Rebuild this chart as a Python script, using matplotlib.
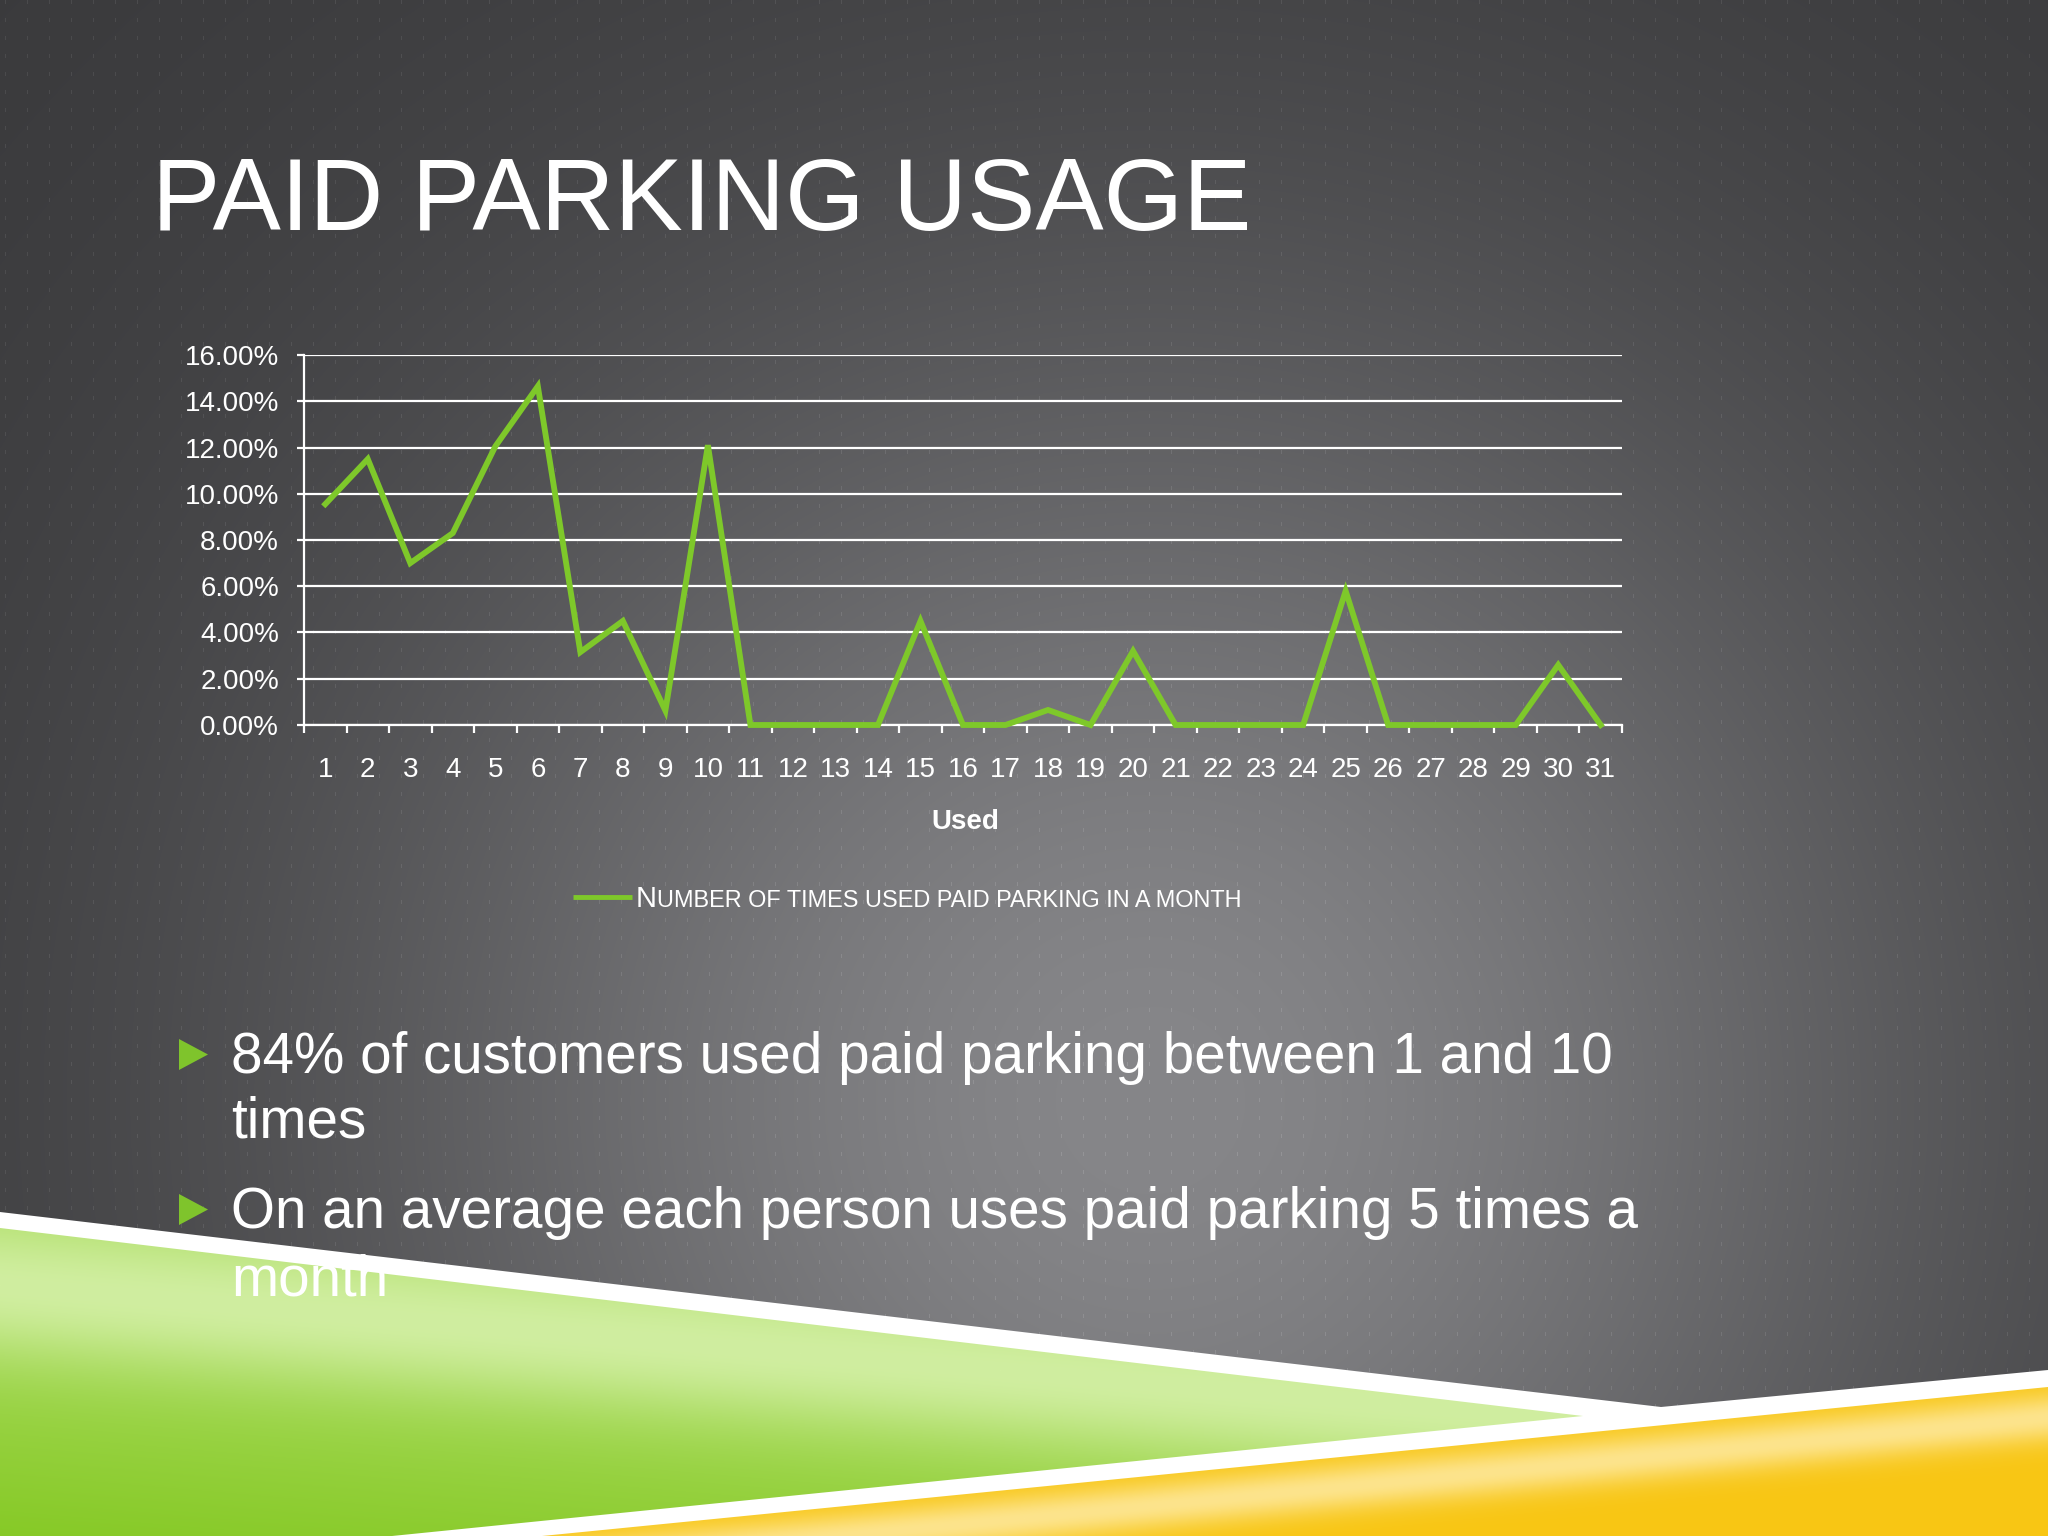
import numpy as np
import matplotlib
matplotlib.use("Agg")
import matplotlib.pyplot as plt
from matplotlib.patches import Polygon
from matplotlib.ticker import FuncFormatter, FixedLocator

# ---------------- data ----------------
categories = list(range(1, 32))
usage_share = [9.55, 11.5, 7.0, 8.3, 12.05, 14.65, 3.15, 4.5, 0.62, 12.1,
               0.0, 0.0, 0.0, 0.0, 4.5, 0.0, 0.0, 0.65, 0.0, 3.2,
               0.0, 0.0, 0.0, 0.0, 5.8, 0.0, 0.0, 0.0, 0.0, 2.6, 0.0]
y_ticks = [0, 2, 4, 6, 8, 10, 12, 14, 16]
series_name = "Number of times used paid parking in a month"
x_title = "Used"
title = "PAID PARKING USAGE"
bullets = [["84% of customers used paid parking between 1 and 10", "times"],
           ["On an average each person uses paid parking 5 times a", "month"]]

FONT = "Liberation Sans"
plt.rcParams["font.family"] = [FONT, "DejaVu Sans"]

W, H = 2048, 1536
fig = plt.figure(figsize=(W / 100, H / 100), dpi=100)

# ---------------- background ----------------
bg = fig.add_axes([0, 0, 1, 1])
bg.set_xlim(0, W)
bg.set_ylim(H, 0)
bg.axis("off")

yy, xx = np.mgrid[0:H, 0:W].astype(float)
f = np.exp(-(((xx - 1150) / 830) ** 2 + ((yy - 1100) / 820) ** 2))
dark = np.array([0x39, 0x39, 0x3b]) / 255
light = np.array([0x86, 0x86, 0x89]) / 255
img = dark[None, None, :] + (light - dark)[None, None, :] * f[..., None]
dots = ((xx.astype(int) % 22) == 5) & ((yy.astype(int) % 18) < 4)
img[dots] += 0.06
img = np.clip(img, 0, 1)
bg.imshow(img, extent=(0, W, H, 0), interpolation="nearest", zorder=0, aspect="auto")

white_poly = Polygon([(0, 1212), (1661, 1407), (2048, 1370), (2048, H), (0, H)],
                     closed=True, facecolor="white", edgecolor="none", zorder=1)
bg.add_patch(white_poly)

# green gradient
d = (yy - (1285 + 0.085 * xx))
hl_g = np.array([0xd0, 0xee, 0xa0]) / 255
top_g = np.array([0xa8, 0xdb, 0x5c]) / 255
bot_g = np.array([0x80, 0xc6, 0x1c]) / 255
mixb = np.clip(d / 300, 0, 1)[..., None]
base_g = top_g * (1 - mixb) + bot_g * mixb
wg = np.exp(-(d / 70) ** 2)[..., None]
gimg = base_g * (1 - wg) + hl_g * wg
green_poly = Polygon([(0, 1228), (1583, 1416), (392, H), (0, H)], closed=True,
                     facecolor="none", edgecolor="none")
bg.add_patch(green_poly)
gim = bg.imshow(np.clip(gimg, 0, 1), extent=(0, W, H, 0), interpolation="bilinear",
                zorder=2, aspect="auto")
gim.set_clip_path(green_poly)

# yellow gradient
dy_ = (yy - (1488 - 0.0986 * (xx - 1024) + 30))
hl_y = np.array([0xfd, 0xe4, 0x8c]) / 255
base_y = np.array([0xf8, 0xc6, 0x14]) / 255
wy = np.exp(-(dy_ / 24) ** 2)[..., None]
yimg = base_y * (1 - wy) + hl_y * wy
yellow_poly = Polygon([(542, H), (2048, 1387), (2048, H)], closed=True,
                      facecolor="none", edgecolor="none")
bg.add_patch(yellow_poly)
yim = bg.imshow(np.clip(yimg, 0, 1), extent=(0, W, H, 0), interpolation="bilinear",
                zorder=2, aspect="auto")
yim.set_clip_path(yellow_poly)

# ---------------- title ----------------
bg.text(152, 230, title, color="white", fontsize=73.7, fontfamily=FONT,
        va="baseline", ha="left", zorder=5)

# ---------------- chart ----------------
GREEN = "#7ec82a"
ax = fig.add_axes([304 / W, 1 - 725 / H, (1622 - 304) / W, (725 - 355) / H])
ax.patch.set_alpha(0)
ax.plot(categories, [v / 100 for v in usage_share], color=GREEN, lw=4.2,
        solid_joinstyle="miter", zorder=3, clip_on=False)
ax.set_xlim(0.5, len(categories) + 0.5)
ax.set_ylim(0, 0.16)
ax.yaxis.set_major_locator(FixedLocator([t / 100 for t in y_ticks]))
ax.yaxis.set_major_formatter(FuncFormatter(lambda v, p: f"{v * 100:.2f}%"))
ax.grid(axis="y", color="white", lw=1.6, zorder=1)
ax.set_axisbelow(True)
for s in ["top", "right"]:
    ax.spines[s].set_visible(False)
for s in ["left", "bottom"]:
    ax.spines[s].set_color("white")
    ax.spines[s].set_linewidth(1.6)
ax.set_xticks(categories)
ax.set_xticklabels([str(c) for c in categories])
ax.set_xticks([c - 0.5 for c in categories] + [len(categories) + 0.5], minor=True)
ax.tick_params(axis="x", which="major", length=0, pad=23, labelsize=20,
               labelcolor="white")
ax.tick_params(axis="x", which="minor", length=6, width=1.6, color="white",
               direction="out")
ax.tick_params(axis="y", which="major", length=5, width=1.6, color="white",
               pad=13, labelsize=20, labelcolor="white")

# axis title
bg.text(965, 822, x_title, color="white", fontsize=20, fontweight="bold",
        ha="center", va="center", zorder=5)

# legend (small caps)
bg.plot([573, 632], [897, 897], color=GREEN, lw=3.5, zorder=5,
        solid_capstyle="butt")
sc = series_name.upper()
tN = bg.text(636, 907, sc[0], color="white", fontsize=21, va="baseline",
             ha="left", zorder=5)
fig.canvas.draw()
bb = tN.get_window_extent()
x_next = bb.x1
bg.annotate(sc[1:], xy=(x_next, H - 907), xycoords="figure pixels", color="white",
            fontsize=16.9, va="baseline", ha="left", zorder=5)

# ---------------- bullets ----------------
TRI = "#7fc42c"
bullet_baselines = [(1073, 1138), (1228, 1295)]
for (b1, b2), lines in zip(bullet_baselines, bullets):
    bg.add_patch(Polygon([(179, b1 - 34), (179, b1 - 3), (208, b1 - 18.5)],
                         closed=True, facecolor=TRI, edgecolor="none", zorder=5))
    bg.text(231, b1, lines[0], color="white", fontsize=40.8, va="baseline",
            ha="left", zorder=5)
    bg.text(231, b2, lines[1], color="white", fontsize=40.8, va="baseline",
            ha="left", zorder=5)

fig.savefig("out.png", dpi=100)
